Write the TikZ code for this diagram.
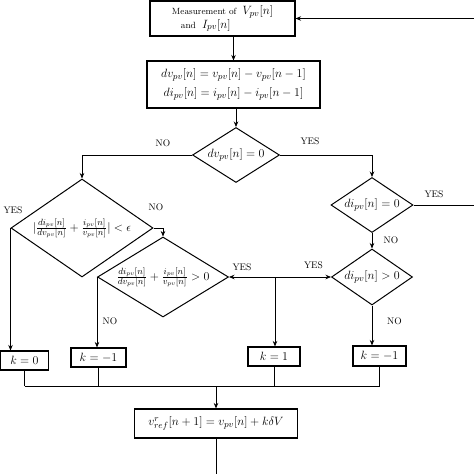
\documentclass[tikz,border=0pt]{standalone}
\usetikzlibrary{shapes.geometric,arrows.meta}
\begin{document}
\begin{tikzpicture}[x=1pt,y=-1pt,
  box/.style={draw,line width=1.1pt,inner sep=0pt,font=\fontsize{13}{19}\selectfont},
  dia/.style={draw,diamond,line width=1pt,inner sep=0pt,font=\fontsize{13}{16}\selectfont},
  conn/.style={line width=0.7pt},
  arr/.style={conn,-{Stealth[length=5.5pt,width=4.5pt]}},
  lab/.style={font=\fontsize{9.5}{11}\selectfont,inner sep=0pt}]
\useasboundingbox (0,0) rectangle (474,474);
% boxes
\node[box,minimum width=145pt,minimum height=35pt,align=left,font=\fontsize{9}{12}\selectfont] (box1) at (222.5,18.5)
  {Measurement of~~{\fontsize{12.5}{14}\selectfont$V_{pv}[n]$}\\\hspace{9pt}and~~{\fontsize{12.5}{14}\selectfont$I_{pv}[n]$}};
\node[box,minimum width=173pt,minimum height=47pt,align=center] (box2) at (233.5,84.5)
  {$dv_{pv}[n]=v_{pv}[n]-v_{pv}[n-1]$\\$di_{pv}[n]=i_{pv}[n]-i_{pv}[n-1]$};
% diamonds
\node[dia,minimum width=87pt,minimum height=55pt] (d1) at (236,155) {\makebox[0pt]{$dv_{pv}[n]=0$}};
\node[dia,minimum width=142pt,minimum height=98pt] (d2) at (82,228)
  {\makebox[0pt]{$|\frac{di_{pv}[n]}{dv_{pv}[n]}+\frac{i_{pv}[n]}{v_{pv}[n]}|<\epsilon$}};
\node[dia,minimum width=82pt,minimum height=55pt] (d3) at (372,205) {\makebox[0pt]{$di_{pv}[n]=0$}};
\node[dia,minimum width=131pt,minimum height=80pt] (d4) at (163,277)
  {\makebox[0pt]{$\frac{di_{pv}[n]}{dv_{pv}[n]}+\frac{i_{pv}[n]}{v_{pv}[n]}>0$}};
\node[dia,minimum width=81pt,minimum height=56pt] (d5) at (372,277) {\makebox[0pt]{$di_{pv}[n]>0$}};
% k boxes
\node[box,minimum width=48pt,minimum height=19pt] (k0) at (24.5,360.5) {$k=0$};
\node[box,minimum width=55pt,minimum height=19pt] (km1l) at (98.5,357.5) {$k=-1$};
\node[box,minimum width=52pt,minimum height=19pt] (k1) at (274,356.5) {$k=1$};
\node[box,minimum width=53pt,minimum height=20pt] (km1r) at (379.5,356) {$k=-1$};
\node[box,minimum width=163pt,minimum height=29pt] (fin) at (216,423.5) {$v^{r}_{ref}[n+1]=v_{pv}[n]+k\delta V$};
% coordinates
\coordinate (bus) at (0,386);
\coordinate (J) at (275,277);
\coordinate (inR) at (474,18.5);
\coordinate (outR) at (474,0);
\coordinate (outB) at (216,474);
% connectors
\draw[arr] (inR) -- (box1.east);
\draw[arr] (box1.south -| box2.north) -- (box2.north);
\draw[arr] (box2.south -| d1.north) -- (d1.north);
\draw[arr] (d1.west) -| (d2.north);
\draw[arr] (d1.east) -| (d3.north);
\draw[conn] (d3.east) -- (d3.east -| outR);
\draw[arr] (d2.west) -- (d2.west |- k0.north);
\draw[arr] (d2.east) -| (d4.north);
\draw[arr] (d4.west) -- (d4.west |- km1l.north);
\draw[arr] (J) -- (d4.east);
\draw[arr] (J) -- (d5.west);
\draw[arr] (J) -- (J |- k1.north);
\draw[arr] (d3.south) -- (d5.north);
\draw[arr] (d5.south) -- (d5.south |- km1r.north);
\draw[conn] (k0.south) -- (k0.south |- bus);
\draw[conn] (km1l.south) -- (km1l.south |- bus);
\draw[conn] (k1.south) -- (k1.south |- bus);
\draw[conn] (km1r.south) -- (km1r.south |- bus);
\draw[conn] (k0.south |- bus) -- (km1r.south |- bus);
\draw[arr] (fin.north |- bus) -- (fin.north);
\draw[conn] (fin.south) -- (outB);
% labels
\node[lab] (l1) at (163,143) {NO};
\node[lab] (l2) at (310,141) {YES};
\node[lab] (l3) at (13,210) {YES};
\node[lab] (l4) at (156,207) {NO};
\node[lab] (l5) at (110,321) {NO};
\node[lab] (l6) at (242,267) {YES};
\node[lab] (l7) at (313.5,265) {YES};
\node[lab] (l8) at (434,194) {YES};
\node[lab] (l9) at (391,240) {NO};
\node[lab] (l10) at (394.5,321) {NO};
\end{tikzpicture}
\end{document}
